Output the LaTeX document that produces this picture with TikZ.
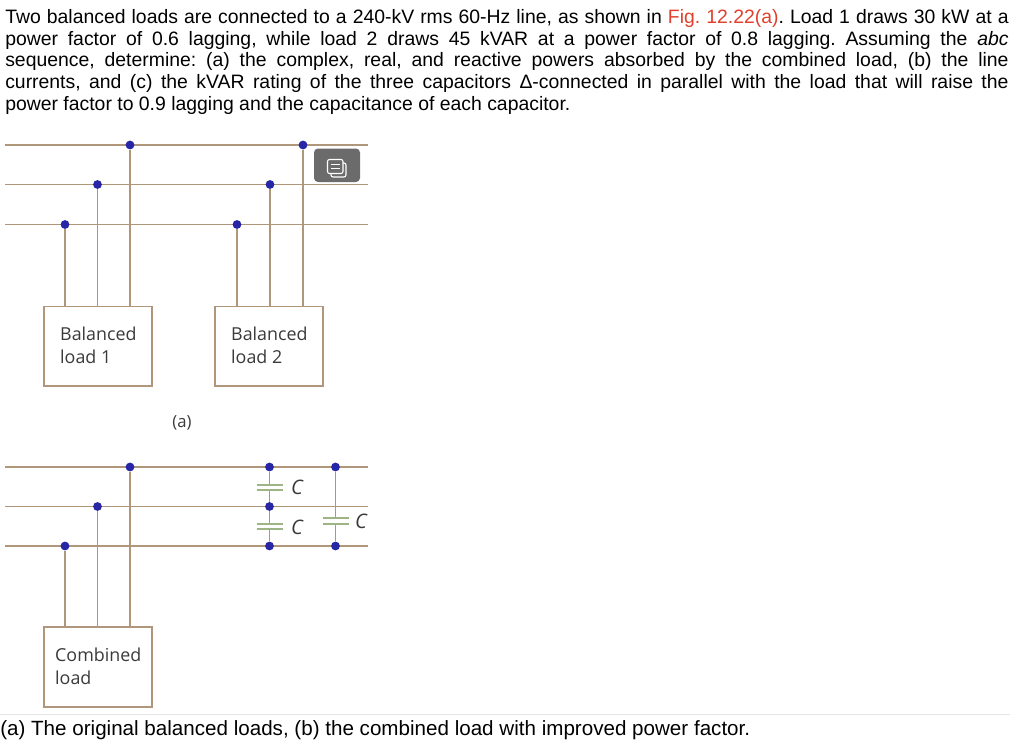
\documentclass[tikz,border=0pt]{standalone}
\usepackage{fontspec}
\setmainfont{Liberation Sans}
\newfontfamily\labelfont{Open Sans}
\usetikzlibrary{backgrounds}
\definecolor{wire}{HTML}{B0977C}
\definecolor{dotblue}{HTML}{2626A6}
\definecolor{capgreen}{HTML}{9DB585}
\definecolor{figred}{HTML}{E0402C}
\definecolor{badge}{HTML}{6B6B6B}
\definecolor{labelink}{HTML}{3A3A3A}
\newcommand{\jline}[1]{\makebox[752.5pt][s]{\frenchspacing #1}}
\tikzset{
  x=0.75pt,y=-0.75pt,
  wireline/.style={draw=wire,line width=1.35pt},
  dot/.style={circle,fill=dotblue,inner sep=0pt,minimum size=6.6pt},
  loadbox/.style={draw=wire,fill=white,line width=1.35pt,minimum width=81pt,minimum height=59.5pt,inner sep=0pt},
  loadtext/.style={font=\labelfont\fontsize{13.4pt}{17.5pt}\selectfont,text=labelink,align=left,anchor=west},
  captext/.style={font=\labelfont\itshape\fontsize{15pt}{15pt}\selectfont,text=labelink},
  para/.style={anchor=base west,inner sep=0pt,font=\fontsize{14.55pt}{16pt}\selectfont},
  plate/.style={draw=capgreen,line width=1.5pt},
}
\begin{document}
\begin{tikzpicture}
\useasboundingbox (0,0) rectangle (1024,746);
% paragraph
\node[para] (l1) at (5,23.5) {\jline{Two balanced loads are connected to a 240-kV rms 60-Hz line, as shown in \textcolor{figred}{Fig. 12.22(a)}. Load 1 draws 30 kW at a}};
\node[para] (l2) at (5,45.2) {\jline{power factor of 0.6 lagging, while load 2 draws 45 kVAR at a power factor of 0.8 lagging. Assuming the \textit{abc}}};
\node[para] (l3) at (5,66.8) {\jline{sequence, determine: (a) the complex, real, and reactive powers absorbed by the combined load, (b) the line}};
\node[para] (l4) at (5,88.5) {\jline{currents, and (c) the kVAR rating of the three capacitors Δ-connected in parallel with the load that will raise the}};
\node[para] (l5) at (5,110.2) {power factor to 0.9 lagging and the capacitance of each capacitor.};
% line ends
\foreach \n/\y in {a/145,b/184.5,c/224.5,d/467,e/506.5,f/546}{
  \coordinate (\n L) at (5,\y);
  \coordinate (\n R) at (368,\y);
}
% dots
\node[dot] (a1) at (130,145) {};
\node[dot] (a2) at (303,145) {};
\node[dot] (b1) at (97.5,184.5) {};
\node[dot] (b2) at (270,184.5) {};
\node[dot] (c1) at (65,224.5) {};
\node[dot] (c2) at (237,224.5) {};
\node[dot] (d1) at (130,467) {};
\node[dot] (d2) at (269.5,467) {};
\node[dot] (d3) at (335.5,467) {};
\node[dot] (e1) at (97.5,506.5) {};
\node[dot] (e2) at (269.5,506.5) {};
\node[dot] (f1) at (65,546) {};
\node[dot] (f2) at (269.5,546) {};
\node[dot] (f3) at (335.5,546) {};
% boxes
\node[loadbox] (load1) at (98.25,346.25) {};
\node[loadbox] (load2) at (269.25,346.25) {};
\node[loadbox] (load3) at (98.25,667) {};
\node[loadtext] at (55.5,345) {Balanced\\load 1};
\node[loadtext] at (226.5,345) {Balanced\\load 2};
\node[loadtext] at (50.5,666) {Combined\\load};
\node[font=\labelfont\fontsize{12.5pt}{14pt}\selectfont,text=labelink] (figa) at (182,423) {(a)};
% capacitor plates
\foreach \n/\x/\y in {p1/269.5/484.7,p2/269.5/490,p3/269.5/524,p4/269.5/529.4,p5/335.5/518.2,p6/335.5/523.8}{
  \coordinate (\n) at (\x,\y);
}
\node[captext] at (297,487.5) {C};
\node[captext] at (297,527.5) {C};
\node[captext] at (361,521.5) {C};
\begin{pgfonlayer}{background}
\foreach \n in {a,b,c,d,e,f}{ \draw[wireline] (\n L) -- (\n R); }
\draw[wireline] (a1) -- (a1 |- load1.north);
\draw[wireline] (b1) -- (b1 |- load1.north);
\draw[wireline] (c1) -- (c1 |- load1.north);
\draw[wireline] (a2) -- (a2 |- load2.north);
\draw[wireline] (b2) -- (b2 |- load2.north);
\draw[wireline] (c2) -- (c2 |- load2.north);
\draw[wireline] (d1) -- (d1 |- load3.north);
\draw[wireline] (e1) -- (e1 |- load3.north);
\draw[wireline] (f1) -- (f1 |- load3.north);
\draw[wireline] (d2) -- (p1);
\draw[wireline] (p2) -- (e2);
\draw[wireline] (e2) -- (p3);
\draw[wireline] (p4) -- (f2);
\draw[wireline] (d3) -- (p5);
\draw[wireline] (p6) -- (f3);
\end{pgfonlayer}
\foreach \p in {p1,p2,p3,p4,p5,p6}{
  \draw[plate] ([xshift=-9.75pt]\p) -- ([xshift=9.75pt]\p);
}
% badge
\fill[badge,rounded corners=3pt] (314,148.5) rectangle (360,182);
\draw[white,line width=0.8pt,rounded corners=1.5pt,fill=badge] (331,163) rectangle (346,177);
\draw[white,line width=0.8pt,rounded corners=1.5pt,fill=badge] (327.5,159.5) rectangle (343,173.5);
\draw[white,line width=0.7pt] (331,164.5) -- (339.5,164.5) (331,168.5) -- (339.5,168.5);
% caption
\draw[draw=black!10,line width=0.6pt] (0,714.5) -- (1010,714.5);
\node[anchor=base west,inner sep=0pt,font=\fontsize{15.45pt}{17pt}\selectfont] (caption) at (0,735) {(a) The original balanced loads, (b) the combined load with improved power factor.};
\end{tikzpicture}
\end{document}
